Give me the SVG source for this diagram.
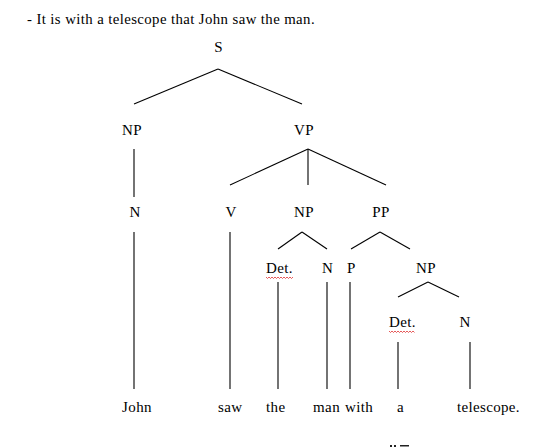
<svg xmlns="http://www.w3.org/2000/svg" width="539" height="447" viewBox="0 0 539 447">
<style>
text{font-family:'Liberation Serif','Times New Roman',serif;font-size:15px;fill:#000;letter-spacing:0.4px}
.c{text-anchor:middle}
line{stroke:#000;stroke-width:1.1}
.sq{fill:none;stroke:#e03030;stroke-width:0.8}
</style>
<rect width="539" height="447" fill="#fff"/>
<text x="27" y="24" textLength="288" lengthAdjust="spacingAndGlyphs">- It is with a telescope that John saw the man.</text>
<g id="connectors">
<line x1="218" y1="69" x2="134" y2="104"/>
<line x1="218" y1="69" x2="302" y2="104"/>
<line x1="134" y1="149" x2="134" y2="197"/>
<line x1="308" y1="149" x2="230" y2="185"/>
<line x1="308" y1="149" x2="308" y2="185"/>
<line x1="308" y1="149" x2="386" y2="185"/>
<line x1="134" y1="232" x2="134" y2="389"/>
<line x1="230" y1="232" x2="230" y2="389"/>
<line x1="302" y1="232" x2="278" y2="249"/>
<line x1="302" y1="232" x2="327" y2="249"/>
<line x1="380" y1="232" x2="351" y2="249"/>
<line x1="380" y1="232" x2="410" y2="249"/>
<line x1="278" y1="282" x2="278" y2="389"/>
<line x1="327" y1="282" x2="327" y2="389"/>
<line x1="350" y1="282" x2="350" y2="389"/>
<line x1="428" y1="282" x2="398" y2="297"/>
<line x1="428" y1="282" x2="459" y2="297"/>
<line x1="398" y1="342" x2="398" y2="389"/>
<line x1="470" y1="342" x2="470" y2="389"/>
</g>
<g id="S"><text class="c" x="218.5" y="52">S</text></g>
<g id="NP1"><text class="c" x="132" y="135">NP</text></g>
<g id="VP"><text class="c" x="304" y="135">VP</text></g>
<g id="N1"><text class="c" x="135" y="217">N</text></g>
<g id="V"><text class="c" x="231" y="217">V</text></g>
<g id="NP2"><text class="c" x="304" y="217">NP</text></g>
<g id="PP"><text class="c" x="381" y="217">PP</text></g>
<g id="Det1"><text x="266" y="273">Det.</text><path class="sq" d="M266,277 l1.5,1.5 l1.5,-1.5 l1.5,1.5 l1.5,-1.5 l1.5,1.5 l1.5,-1.5 l1.5,1.5 l1.5,-1.5 l1.5,1.5 l1.5,-1.5 l1.5,1.5 l1.5,-1.5 l1.5,1.5 l1.5,-1.5 l1.5,1.5 l1.5,-1.5 l1.5,1.5 l1.5,-1.5"/></g>
<g id="N2"><text class="c" x="327.5" y="273">N</text></g>
<g id="P"><text x="347" y="273">P</text></g>
<g id="NP3"><text class="c" x="426" y="273">NP</text></g>
<g id="Det2"><text x="389" y="327">Det.</text><path class="sq" d="M389,331 l1.5,1.5 l1.5,-1.5 l1.5,1.5 l1.5,-1.5 l1.5,1.5 l1.5,-1.5 l1.5,1.5 l1.5,-1.5 l1.5,1.5 l1.5,-1.5 l1.5,1.5 l1.5,-1.5 l1.5,1.5 l1.5,-1.5 l1.5,1.5 l1.5,-1.5 l1.5,1.5"/></g>
<g id="N3"><text class="c" x="465" y="327">N</text></g>
<g id="John"><text x="122" y="412">John</text></g>
<g id="saw"><text x="218" y="412">saw</text></g>
<g id="the"><text x="266" y="412">the</text></g>
<g id="man"><text x="313" y="412">man</text></g>
<g id="with"><text x="345" y="412">with</text></g>
<g id="a"><text x="397" y="412">a</text></g>
<g id="telescope"><text x="457" y="412" textLength="63" lengthAdjust="spacing">telescope.</text></g>
<rect x="390" y="445" width="2" height="2" fill="#222"/>
<rect x="394" y="445" width="2" height="2" fill="#222"/>
<rect x="400" y="445" width="9" height="1.5" fill="#222"/>
</svg>
